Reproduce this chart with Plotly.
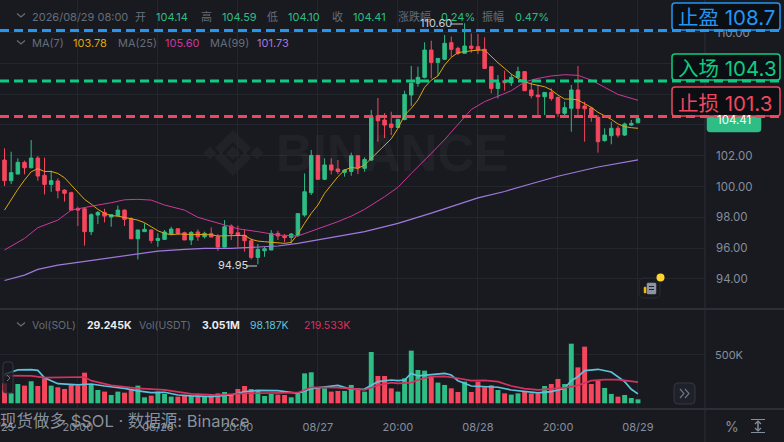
import plotly.graph_objects as go

W, H = 784, 442

opens = [101.72,100.38,100.81,101.57,101.22,101.85,100.73,100.14,100.36,99.77,
 99.60,98.58,98.56,97.07,98.15,98.32,98.02,98.11,98.47,97.91,
 96.61,97.07,97.18,96.50,96.57,96.92,97.26,97.00,96.53,97.05,
 96.74,96.94,96.74,96.07,97.44,97.00,96.83,96.48,95.40,95.83,
 95.88,96.96,96.79,96.70,96.83,98.15,99.60,102.02,100.47,101.40,
 101.14,100.92,100.98,102.00,101.18,101.72,104.60,104.32,104.06,103.84,
 104.36,105.94,106.70,107.09,108.86,108.06,108.26,109.34,108.97,108.65,
 109.12,109.08,108.91,107.78,106.37,106.87,106.74,107.09,107.46,106.27,
 105.94,105.83,106.11,105.79,104.75,105.08,106.27,105.23,105.10,104.49,
 102.98,103.30,103.78,103.34,103.99,104.14]
highs = [102.48,102.26,101.83,101.68,103.02,101.98,101.87,101.03,100.53,99.82,
 99.66,98.69,98.65,98.26,98.41,98.56,98.19,98.76,98.52,98.00,
 97.18,97.61,97.22,96.96,97.18,97.39,97.28,97.07,97.11,97.22,
 97.07,97.35,96.92,97.82,97.54,97.46,97.18,96.63,96.27,96.09,
 97.18,97.13,96.92,96.96,98.26,100.85,102.37,102.05,101.83,101.83,
 101.72,101.12,102.20,102.00,101.90,104.97,105.75,104.77,104.86,104.40,
 106.22,107.83,107.78,109.36,109.47,108.32,109.84,109.73,109.08,110.60,
 109.94,109.90,109.69,107.78,107.24,107.52,107.30,107.78,107.50,106.81,
 106.59,106.11,106.37,105.83,105.51,106.59,107.83,105.51,105.18,104.64,
 103.78,104.21,103.93,104.15,104.32,104.59]
lows = [100.03,100.16,100.79,100.79,101.18,100.38,99.49,99.66,99.23,99.02,
 98.47,97.44,96.16,96.85,97.56,97.67,97.39,98.04,97.44,96.59,
 95.27,97.07,96.31,96.09,96.53,96.85,96.85,96.53,96.20,96.48,
 96.63,96.70,95.83,96.05,96.53,96.05,95.77,95.27,94.95,95.44,
 95.88,96.53,96.37,96.31,96.74,98.04,99.45,100.47,100.42,100.79,
 100.81,100.64,100.70,100.81,100.96,101.65,102.91,103.15,103.34,103.80,
 104.30,105.23,106.48,107.02,107.02,107.18,108.21,108.43,108.54,108.65,
 108.69,108.60,107.67,106.05,105.72,106.22,106.53,107.02,106.22,105.72,
 104.64,104.64,105.57,104.54,104.64,103.56,104.64,102.91,104.21,102.20,
 102.91,102.74,103.19,103.28,103.93,104.10]
closes = [100.38,100.90,101.57,101.22,101.85,100.68,100.14,100.38,99.73,99.56,
 98.47,98.47,97.07,98.17,98.32,98.08,98.17,98.47,97.87,96.61,
 97.18,97.22,96.50,96.63,97.05,97.24,96.96,96.53,97.02,96.74,
 96.96,96.72,96.07,97.39,96.94,96.85,96.48,95.40,95.92,95.96,
 96.96,96.79,96.68,96.92,98.24,99.66,102.02,100.47,101.40,101.07,
 100.98,101.07,102.00,101.22,101.76,104.53,104.27,103.99,103.84,104.36,
 105.98,106.70,107.09,108.86,108.06,108.32,109.30,108.91,108.65,109.12,
 108.97,108.86,107.67,106.37,106.74,106.74,107.09,107.46,106.22,105.90,
 105.83,106.11,105.72,104.75,105.12,106.27,105.08,105.05,104.54,102.91,
 103.34,103.78,103.34,104.06,104.10,104.41]
volumes = [207,103,200,183,228,179,259,183,166,148,200,183,317,190,138,121,86,121,110,138,
 183,62,79,121,97,69,69,83,76,69,69,83,103,117,86,148,179,148,138,76,
 97,90,86,62,97,310,321,166,155,121,128,128,190,155,121,531,283,283,155,121,
 259,545,345,338,276,214,190,155,117,224,117,224,166,186,138,103,90,103,121,103,
 103,179,200,252,200,617,372,586,200,234,159,97,69,86,55,41]

ma7 = [98.47,99.17,99.82,100.42,100.96,101.16,100.98,100.98,100.85,100.57,
 100.10,99.60,99.17,98.86,98.52,98.26,98.11,98.08,98.00,97.93,
 97.82,97.65,97.39,97.13,96.96,96.87,96.92,96.89,96.89,96.89,
 96.89,96.87,96.79,96.81,96.83,96.85,96.83,96.57,96.46,96.42,
 96.37,96.35,96.31,96.37,96.92,97.61,98.26,98.80,99.56,100.10,
 100.64,101.07,101.24,101.18,101.40,101.83,102.26,102.70,103.10,103.78,
 104.64,105.08,105.62,106.44,106.91,107.18,107.89,108.39,108.69,108.76,
 108.82,108.86,108.86,108.43,108.04,107.67,107.30,107.02,106.81,106.66,
 106.57,106.48,106.27,105.94,105.68,105.68,105.62,105.40,105.14,104.82,
 104.60,104.36,104.06,103.89,103.82,103.78]
ma25_idx = [0,3,5,8,10,12,14,16,18,20,22,24,27,29,32,35,38,41,44,47,50,52,54,57,59,61,63,64,66,68,70,72,74,76,78,80,82,84,86,88,90,92,95]
ma25 = [95.88,96.63,97.33,97.82,98.47,98.65,98.80,98.95,99.14,99.17,99.12,98.80,98.47,98.00,97.61,97.26,97.07,96.85,96.79,97.24,97.72,98.08,98.52,99.34,99.95,100.85,101.76,102.15,103.05,104.00,105.00,105.51,105.88,106.22,106.79,107.02,107.18,107.26,107.22,106.91,106.44,105.98,105.60]
ma99_idx = [0,3,5,8,11,14,17,20,23,27,30,34,38,41,44,48,54,59,64,71,75,79,83,89,95]
ma99 = [93.90,94.25,94.62,94.90,95.08,95.27,95.44,95.66,95.81,95.92,95.98,95.98,96.05,96.14,96.31,96.63,97.07,97.61,98.27,99.26,99.68,100.18,100.67,101.27,101.73]

volma_a_idx = [0,2,4,5,6,8,11,13,15,18,20,22,24,26,28,31,34,36,38,41,44,46,50,52,54,56,58,59,60,61,62,64,66,67,68,70,72,74,76,78,80,82,84,85,86,87,89,91,93,94,95]
volma_a = [300,345,348,341,265,203,190,200,179,155,128,110,114,86,76,69,86,121,134,131,103,152,186,145,148,224,241,234,241,310,283,297,310,293,234,179,169,166,138,124,107,121,155,234,276,338,352,324,224,145,98]
volma_b_idx = [0,4,6,10,12,13,16,20,24,28,32,36,40,44,46,50,54,56,58,59,61,62,64,66,68,70,72,74,76,78,80,82,84,86,88,90,92,95]
volma_b = [286,283,265,272,272,234,186,155,138,97,86,103,110,110,166,162,138,186,214,207,214,241,276,279,259,234,238,224,179,152,138,145,159,186,234,245,245,220]

tick_idx = [11,23,35,47,59,71,83,95]
tick_txt = ["20:00","08/26","20:00","08/27","20:00","08/28","20:00","08/29"]
price_ticks = [94,96,98,100,102,104,106,108,110]
vol_ticks = [500]

BG = "#181a20"; GRID = "#23262d"; SEP = "#2b2f38"
UP = "#2ebd85"; DOWN = "#f6465d"
BLUE = "#2196f3"; ENTRY = "#0ecb81"; STOP = "#f0475e"
TXT = "#848e9c"; DIM = "#666d78"
FONT = "Inter, 'Noto Sans CJK SC', sans-serif"

def px(x): return x / W
def py(y): return 1 - y / H

fig = go.Figure()
fig.add_trace(go.Candlestick(
    x=list(range(len(opens))), open=opens, high=highs, low=lows, close=closes,
    increasing=dict(line=dict(color=UP, width=1), fillcolor=UP),
    decreasing=dict(line=dict(color=DOWN, width=1), fillcolor=DOWN),
    whiskerwidth=0, hoverinfo="skip", showlegend=False, xaxis="x", yaxis="y"))
fig.add_trace(go.Scatter(x=list(range(len(ma7))), y=ma7, mode="lines", line=dict(color="#dfa70f", width=1), hoverinfo="skip", showlegend=False))
fig.add_trace(go.Scatter(x=ma25_idx, y=ma25, mode="lines", line=dict(color="#c9399b", width=1), hoverinfo="skip", showlegend=False))
fig.add_trace(go.Scatter(x=ma99_idx, y=ma99, mode="lines", line=dict(color="#a178dc", width=1.2), hoverinfo="skip", showlegend=False))
fig.add_trace(go.Bar(x=list(range(len(volumes))), y=volumes, width=0.74,
    marker=dict(color=[UP if c >= o else DOWN for o, c in zip(opens, closes)], line_width=0),
    hoverinfo="skip", showlegend=False, xaxis="x", yaxis="y2"))
fig.add_trace(go.Scatter(x=volma_a_idx, y=volma_a, mode="lines", line=dict(color="#5cc3dc", width=1.7), hoverinfo="skip", showlegend=False, yaxis="y2"))
fig.add_trace(go.Scatter(x=volma_b_idx, y=volma_b, mode="lines", line=dict(color="#d5335f", width=1.7), hoverinfo="skip", showlegend=False, yaxis="y2"))

shapes = []
def rrect(x0, y0, x1, y1, r, fill, line, lw=1.5, layer="above"):
    a, b, c, d = px(x0), py(y0), px(x1), py(y1)
    rx, ry = r / W, r / H
    path = (f"M{a+rx},{b} L{c-rx},{b} Q{c},{b} {c},{b-ry} L{c},{d+ry} Q{c},{d} {c-rx},{d} "
            f"L{a+rx},{d} Q{a},{d} {a},{d+ry} L{a},{b-ry} Q{a},{b} {a+rx},{b} Z")
    shapes.append(dict(type="path", xref="paper", yref="paper", path=path, fillcolor=fill,
                       line=dict(color=line, width=lw), layer=layer))
def poly(pts, fill=None, line=None, lw=1, layer="above"):
    path = "M" + " L".join(f"{px(x)},{py(y)}" for x, y in pts)
    if fill: path += " Z"
    shapes.append(dict(type="path", xref="paper", yref="paper", path=path,
                       fillcolor=fill or "rgba(0,0,0,0)",
                       line=dict(color=line or "rgba(0,0,0,0)", width=lw), layer=layer))
def hline(y, color, lw=1, dash="solid", x0=0, x1=W, layer="above"):
    shapes.append(dict(type="line", xref="paper", yref="paper", x0=px(x0), x1=px(x1), y0=py(y), y1=py(y),
                       line=dict(color=color, width=lw, dash=dash), layer=layer))

# watermark
WM = "rgba(255,255,255,0.04)"
poly([(203.5,153),(210,146.5),(216.5,153),(210,159.5)], fill=WM, layer="below")
poly([(250.5,153),(257,146.5),(263.5,153),(257,159.5)], fill=WM, layer="below")
poly([(226,153),(233,146),(240,153),(233,160)], fill=WM, layer="below")
poly([(233,130),(251,148),(245,154),(233,142),(221,154),(215,148)], fill=WM, layer="below")
poly([(233,176),(251,158),(245,152),(233,164),(221,152),(215,158)], fill=WM, layer="below")

# pane separators
hline(309, SEP, 2)
hline(409, SEP, 2)
shapes.append(dict(type="line", xref="paper", yref="paper", x0=px(705), x1=px(705), y0=0, y1=1,
                   line=dict(color=SEP, width=1), layer="above"))

# last-price tag
rrect(707, 108, 761, 132, 3, UP, UP, 0.5)

# target boxes and dashed lines
rrect(672, 3, 780, 30, 3, "#0b0e13", BLUE)
rrect(672, 54, 780, 80, 3, "#0b0e13", ENTRY)
rrect(672, 87, 780, 116, 3, "#0b0e13", STOP)
hline(30.5, BLUE, 3, "9px,5px")
hline(81, ENTRY, 3, "9px,5px")
hline(116.5, STOP, 3, "9px,5px")

# chevrons
for y in (15, 42, 324):
    poly([(17, y-1.5), (21, y+2), (25, y-1.5)], line=DIM, lw=1.2)

# high / low lead lines
hline(24, "#a8adb5", 1.2, x0=451, x1=463)
hline(266, "#a8adb5", 1.2, x0=246, x1=257)

# note icon and dot
rrect(639, 278, 660, 298, 5, "rgba(0,0,0,0)", "#262a31", 1)
rrect(647, 283, 656, 294, 1, "#8d95a3", "#8d95a3", 0.5)
rrect(644, 287, 646, 293, 0.5, "#f0b90b", "#f0b90b", 0.5)
hline(286.5, "#20232a", 1, x0=649, x1=654)
hline(289.5, "#20232a", 1, x0=649, x1=654)
shapes.append(dict(type="circle", xref="paper", yref="paper", x0=px(656.5), x1=px(664.5), y0=py(281.5), y1=py(273.5),
                   fillcolor="#fcd535", line=dict(width=0), layer="above"))

# scroll buttons
rrect(3, 362, 13, 393, 3, "rgba(24,26,32,0.75)", "#343840", 1)
poly([(7, 375), (10, 378), (7, 381)], line="#6d7480", lw=1)
rrect(674, 383, 695, 404, 4, "#1e2129", "#343840", 1)
poly([(680, 389), (684, 393.5), (680, 398)], line="#6d7480", lw=1.2)
poly([(685, 389), (689, 393.5), (685, 398)], line="#6d7480", lw=1.2)

# scale icon
hline(419.5, "#848e9c", 1, x0=751, x1=765)
hline(432.5, "#848e9c", 1, x0=751, x1=765)
poly([(758, 421), (758, 431)], line="#848e9c", lw=1.5)
poly([(755, 424), (758, 421), (761, 424)], line="#848e9c", lw=1.2)
poly([(755, 428), (758, 431), (761, 428)], line="#848e9c", lw=1.2)

ann = []
def T(x, y, s, color=TXT, size=11, anchor="left", weight=None, family=FONT):
    txt = f"<b>{s}</b>" if weight else s
    ann.append(dict(xref="paper", yref="paper", x=px(x), y=py(y), text=txt, showarrow=False,
                    xanchor=anchor, yanchor="middle", align="left", borderpad=0,
                    font=dict(color=color, size=size, family=family)))

T(275, 153, "BINANCE", "rgba(255,255,255,0.04)", 51, weight=True, family="Liberation Sans, sans-serif")

G = "#2ebd85"
for x, s, c in [(31,"2026/08/29 08:00",DIM),(134,"开",DIM),(155,"104.14",G),(200,"高",DIM),(221,"104.59",G),
                (266,"低",DIM),(287,"104.10",G),(331,"收",DIM),(352,"104.41",G),(397,"涨跌幅",DIM),
                (440,"0.24%",G),(481,"振幅",DIM),(514,"0.47%",G)]:
    T(x, 17, s, c)
for x, s, c in [(31,"MA(7)",DIM),(72,"103.78","#dfa70f"),(117,"MA(25)",DIM),(164,"105.60","#c9399b"),
                (209,"MA(99)",DIM),(256,"101.73","#a178dc")]:
    T(x, 43, s, c)
T(31, 325, "Vol(SOL)", DIM, 10.5)
T(86, 325, "29.245K", "#eaecef", 10.5, weight=True)
T(138, 325, "Vol(USDT)", DIM, 10.5)
T(201, 325, "3.051M", "#eaecef", 10.5, weight=True)
T(249, 325, "98.187K", "#5cc3dc", 10.5)
T(303, 325, "219.533K", "#d5335f", 10.5)

T(419, 23, "110.60", "#c9ced6", 11)
T(217, 265, "94.95", "#d7dade", 11)

T(677, 18, "止盈 108.7", BLUE, 20.5)
T(677, 68, "入场 104.3", ENTRY, 20.5)
T(677, 103, "止损 101.3", STOP, 20.5)

T(734, 120, "104.41", "#ffffff", 11.5, anchor="center")
T(-2, 427, "08/25", TXT, 11, anchor="center")
T(732, 426, "%", TXT, 14, anchor="center")
T(-1, 421, "现货做多 $SOL · 数据源: Binance", "rgba(160,168,180,0.85)", 16.5)

fig.update_layout(
    width=W, height=H, autosize=False,
    margin=dict(l=0, r=0, t=0, b=0),
    paper_bgcolor=BG, plot_bgcolor=BG,
    font=dict(family=FONT, color=TXT, size=11),
    showlegend=False, boxgap=0.25, bargap=0.2,
    hovermode=False, dragmode=False,
    xaxis=dict(domain=[0, px(705)], range=[-0.675, 105.05], anchor="y2", rangeslider=dict(visible=False),
               tickmode="array", tickvals=tick_idx, ticktext=tick_txt, showgrid=True, gridcolor=GRID, gridwidth=1,
               zeroline=False, showline=False, ticks="", ticklabelstandoff=10,
               tickfont=dict(color=TXT, size=11, family=FONT)),
    yaxis=dict(domain=[py(309), 1], range=[92.05, 112.11], side="right", anchor="x",
               tickmode="array", tickvals=price_ticks,
               ticktext=["94.00","96.00","98.00","100.00","102.00","","","","110.00"],
               showgrid=True, gridcolor=GRID, gridwidth=1, zeroline=False, showline=False, ticks="",
               ticklabelstandoff=10, tickfont=dict(color=TXT, size=11.5, family=FONT)),
    yaxis2=dict(domain=[py(409), py(309)], range=[-59, 976], side="right", anchor="x",
                tickmode="array", tickvals=vol_ticks, ticktext=["500K"],
                showgrid=True, gridcolor=GRID, gridwidth=1, zeroline=False, showline=False, ticks="",
                ticklabelstandoff=9, tickfont=dict(color=TXT, size=11, family=FONT)),
    shapes=shapes, annotations=ann,
)
fig.write_html("out.html", config=dict(displayModeBar=False),
               post_script="document.body.style.margin='0';document.body.style.overflow='hidden';")
